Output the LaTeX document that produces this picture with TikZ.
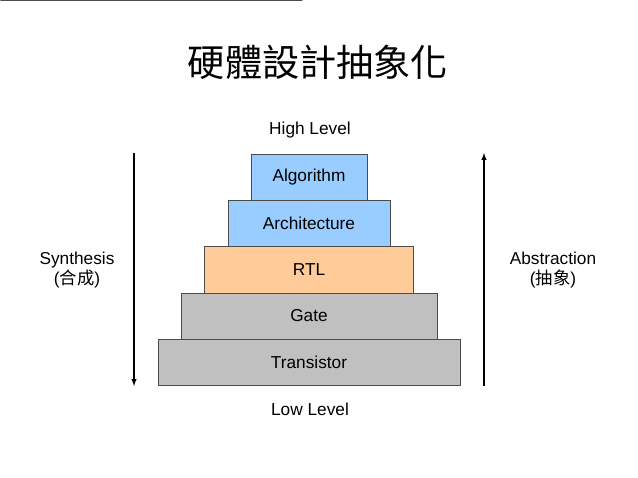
\documentclass[tikz,border=0pt]{standalone}
\usepackage{fontspec}
\setmainfont{Liberation Sans}
\newfontfamily\cjk{Noto Sans CJK TC}
\begin{document}
\begin{tikzpicture}[x=0.02646cm,y=-0.02646cm,
  lvl/.style={draw=black!70,line width=0.6pt,anchor=north west,inner sep=0pt,font=\fontsize{13}{15}\selectfont,text depth=0pt},
  lbl/.style={font=\fontsize{13}{15}\selectfont,align=center},
  arr/.style={-latex,line width=0.8pt}]
\useasboundingbox (0,0) rectangle (638,478);
\definecolor{blu}{HTML}{99CCFF}
\definecolor{ora}{HTML}{FFCC99}
\definecolor{gry}{HTML}{C0C0C0}
\node (title) at (318,62) {\cjk\fontsize{28}{32}\selectfont 硬體設計抽象化};
\node[lbl] (hi) at (310,130) {High Level};
\node[lbl] (lo) at (310,409) {Low Level};
\node[lvl,fill=gry,minimum width=302pt*0.75/0.75*0.02646cm/1pt,minimum height=0pt] at (0,0) {};
\draw[draw=black!70,fill=blu] (251,154) rectangle (367,200);
\draw[draw=black!70,fill=blu] (228,200) rectangle (390,246);
\draw[draw=black!70,fill=ora] (204,246) rectangle (413,293);
\draw[draw=black!70,fill=gry] (181,293) rectangle (437,339);
\draw[draw=black!70,fill=gry] (158,339) rectangle (460,385);
\node[lbl] (alg) at (309,177) {Algorithm};
\node[lbl] (arc) at (309,223) {Architecture};
\node[lbl] (rtl) at (309,270) {RTL};
\node[lbl] (gate) at (309,316) {Gate};
\node[lbl] (tr) at (309,362) {Transistor};
\coordinate (l1) at (134,153); \coordinate (l2) at (134,386);
\coordinate (r1) at (484,386); \coordinate (r2) at (484,153);
\draw[arr] (l1) -- (l2);
\draw[arr] (r1) -- (r2);
\node[lbl] (syn) at (77,270) {Synthesis\\({\cjk 合成})};
\node[lbl] (abs) at (553,270) {Abstraction\\({\cjk 抽象})};
\end{tikzpicture}
\end{document}
